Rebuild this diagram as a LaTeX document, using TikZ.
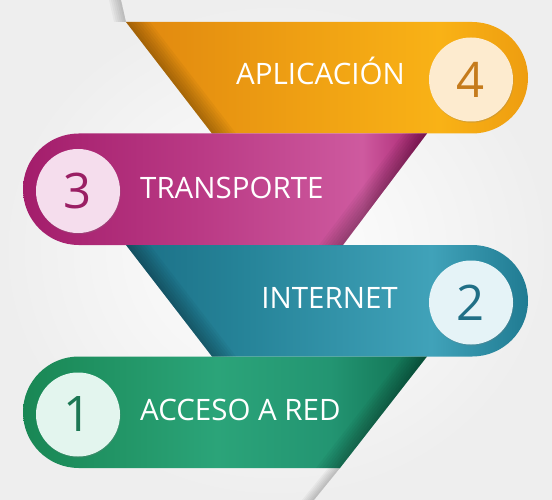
\documentclass[tikz,border=0pt]{standalone}
\usepackage{fontspec}
\setmainfont{Open Sans}
\usetikzlibrary{shadows}

\definecolor{bggray}{HTML}{EEEEEE}
% orange
\definecolor{orA}{HTML}{E0870F}
\definecolor{orB}{HTML}{EFA013}
\definecolor{orC}{HTML}{F9B216}
\definecolor{orD}{HTML}{EE9D10}
\definecolor{orFill}{HTML}{FDEBCF}
\definecolor{orText}{HTML}{C57B1C}
% magenta
\definecolor{mgA}{HTML}{A31D6B}
\definecolor{mgB}{HTML}{BA3A85}
\definecolor{mgC}{HTML}{CE5A9F}
\definecolor{mgD}{HTML}{A51F6C}
\definecolor{mgFill}{HTML}{F5DDED}
\definecolor{mgText}{HTML}{9A1F64}
% teal
\definecolor{tlA}{HTML}{1B6F86}
\definecolor{tlB}{HTML}{268499}
\definecolor{tlC}{HTML}{40A2B9}
\definecolor{tlD}{HTML}{207B92}
\definecolor{tlFill}{HTML}{E5F3F7}
\definecolor{tlText}{HTML}{206F86}
% green
\definecolor{grA}{HTML}{198754}
\definecolor{grB}{HTML}{2BA479}
\definecolor{grC}{HTML}{239572}
\definecolor{grD}{HTML}{0F6E50}
\definecolor{grFill}{HTML}{E3F5EE}
\definecolor{grText}{HTML}{1C7754}

\pgfdeclarehorizontalshading{orangeband}{100bp}{color(0bp)=(orA); color(25bp)=(orA); color(47bp)=(orB); color(64bp)=(orC); color(75bp)=(orD); color(100bp)=(orD)}
\pgfdeclarehorizontalshading{magentaband}{100bp}{color(0bp)=(mgA); color(25bp)=(mgA); color(47bp)=(mgB); color(67bp)=(mgC); color(75bp)=(mgD); color(100bp)=(mgD)}
\pgfdeclarehorizontalshading{tealband}{100bp}{color(0bp)=(tlA); color(25bp)=(tlA); color(40bp)=(tlB); color(63bp)=(tlC); color(75bp)=(tlD); color(100bp)=(tlD)}
\pgfdeclarehorizontalshading{greenband}{100bp}{color(0bp)=(grA); color(25bp)=(grA); color(49bp)=(grB); color(63bp)=(grC); color(75bp)=(grD); color(100bp)=(grD)}

\newcommand\bandfont{\fontsize{29.5}{34}\selectfont}
\newcommand\numfont{\fontsize{49}{56}\selectfont}

\tikzset{
  bandtext/.style={text=white, font=\bandfont, inner sep=0pt},
  numcircle/.style={circle, minimum size=84pt, inner sep=0pt, font=\numfont,
    drop shadow={shadow xshift=0.6pt, shadow yshift=-1.2pt, opacity=0.25}},
  foldshade/.style={black, opacity=0.035}
}

\begin{document}
\begin{tikzpicture}[x=1pt, y=-1pt]
  \useasboundingbox (0,0) rectangle (552,500);
  \shade[inner color=white, outer color=bggray] (0,0) rectangle (552,500);

  % paper folds above and below
  \foreach \d in {2,4,...,12}
    \fill[foldshade] (121-\d,0) -- (121,0) -- (126,22) -- (126-\d,22) -- cycle;
  \foreach \d in {2,4,...,12}
    \fill[foldshade] (340,468) -- (314,500) -- (314-\d,500) -- (340-\d,468) -- cycle;

  % bands
  \shade[shading=orangeband] (126,22) -- (472.25,22)
    arc[start angle=90, end angle=-90, radius=55.75pt] -- (212,133.5) -- cycle;
  \shade[shading=magentaband] (427,133.5) -- (78.75,133.5)
    arc[start angle=90, end angle=270, radius=55.75pt] -- (343,245) -- cycle;
  \shade[shading=tealband] (126,245) -- (472.25,245)
    arc[start angle=90, end angle=-90, radius=55.75pt] -- (212,356.5) -- cycle;
  \shade[shading=greenband] (427,356.5) -- (78.75,356.5)
    arc[start angle=90, end angle=270, radius=55.75pt] -- (340,468) -- cycle;

  % shadow along the slanted edges
  \foreach \d in {3,6,...,24} {
    \fill[foldshade] (126,22) -- (126+\d,22) -- (212+\d,133.5) -- (212,133.5) -- cycle;
    \fill[foldshade] (427,133.5) -- (427-\d,133.5) -- (343-\d,245) -- (343,245) -- cycle;
    \fill[foldshade] (126,245) -- (126+\d,245) -- (212+\d,356.5) -- (212,356.5) -- cycle;
    \fill[foldshade] (427,356.5) -- (427-\d,356.5) -- (340-\d,468) -- (340,468) -- cycle;
  }

  % numbers
  \node (n4) at (471,79.5) [numcircle, fill=orFill, text=orText] {4};
  \node (n3) at (78,191) [numcircle, fill=mgFill, text=mgText] {3};
  \node (n2) at (471,302.5) [numcircle, fill=tlFill, text=tlText] {2};
  \node (n1) at (78,414.5) [numcircle, fill=grFill, text=grText] {1};

  % labels
  \node (l4) at (405,85) [bandtext, anchor=base east] {APLICACIÓN};
  \node (l3) at (140,199) [bandtext, anchor=base west] {TRANSPORTE};
  \node (l2) at (398,308) [bandtext, anchor=base east] {INTERNET};
  \node (l1) at (140,420) [bandtext, anchor=base west] {ACCESO A RED};
\end{tikzpicture}
\end{document}
